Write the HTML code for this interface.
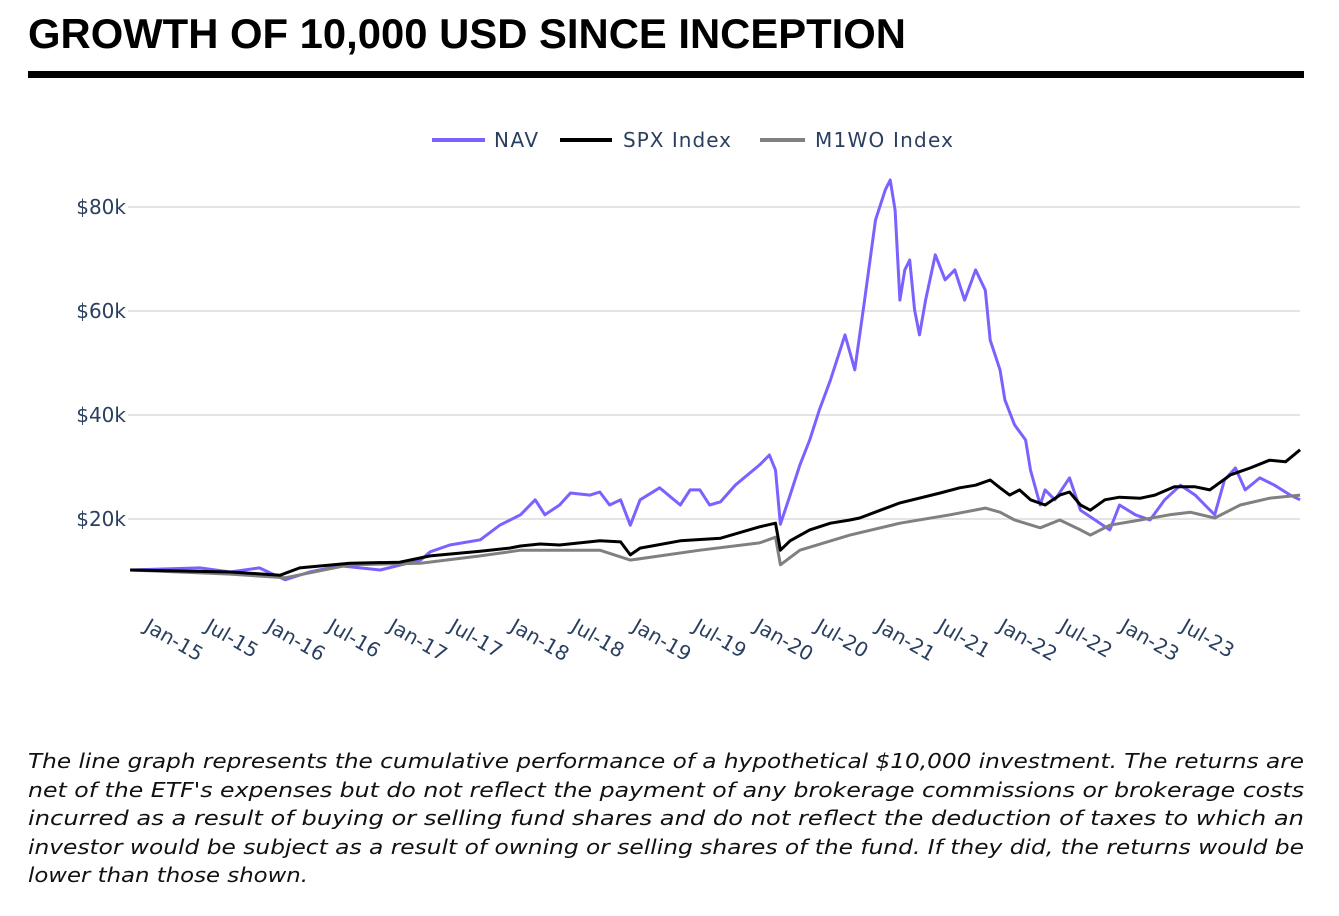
<!DOCTYPE html>
<html><head><meta charset="utf-8"><style>
body{margin:0;background:#fff;width:1339px;height:911px;overflow:hidden;font-family:"Liberation Sans",sans-serif}
</style></head><body>
<svg width="1339" height="911" viewBox="0 0 1339 911">
<text x="28" y="48" font-size="42" font-weight="bold" fill="#000" textLength="878" lengthAdjust="spacingAndGlyphs">GROWTH OF 10,000 USD SINCE INCEPTION</text>
<rect x="28" y="71" width="1276" height="7" fill="#000"/>
<g id="grid"></g>
<g id="yt"></g>
<g id="xt"></g>
<g id="lines"></g>
<g font-size="20" fill="#2a3f5f" font-family="DejaVu Sans, sans-serif">
<g><line x1="432" y1="140" x2="485" y2="140" stroke="#7b61ff" stroke-width="4"/><text x="494" y="147" textLength="44">NAV</text></g>
<g><line x1="560" y1="140" x2="612" y2="140" stroke="#000" stroke-width="4"/><text x="623" y="147" textLength="108">SPX Index</text></g>
<g><line x1="760" y1="140" x2="805" y2="140" stroke="#808080" stroke-width="4"/><text x="815" y="147" textLength="138">M1WO Index</text></g>
</g>
<g font-size="20" font-style="italic" fill="#111" font-family="DejaVu Sans, sans-serif">
<text x="28" y="768" textLength="1276" lengthAdjust="spacingAndGlyphs">The line graph represents the cumulative performance of a hypothetical $10,000 investment. The returns are</text>
<text x="28" y="797" textLength="1276" lengthAdjust="spacingAndGlyphs">net of the ETF's expenses but do not reflect the payment of any brokerage commissions or brokerage costs</text>
<text x="28" y="825" textLength="1276" lengthAdjust="spacingAndGlyphs">incurred as a result of buying or selling fund shares and do not reflect the deduction of taxes to which an</text>
<text x="28" y="854" textLength="1276" lengthAdjust="spacingAndGlyphs">investor would be subject as a result of owning or selling shares of the fund. If they did, the returns would be</text>
<text x="28" y="882" textLength="280" lengthAdjust="spacingAndGlyphs">lower than those shown.</text>
</g>
</svg>
<script>
const yTicks=[20,40,60,80];
const xTickLabels=["Jan-15","Jul-15","Jan-16","Jul-16","Jan-17","Jul-17","Jan-18","Jul-18","Jan-19","Jul-19","Jan-20","Jul-20","Jan-21","Jul-21","Jan-22","Jul-22","Jan-23","Jul-23"];
const xTickYears=[2015,2015.5,2016,2016.5,2017,2017.5,2018,2018.5,2019,2019.5,2020,2020.5,2021,2021.5,2022,2022.5,2023,2023.5];
const navDates=[-0.04,0.53,0.78,1.02,1.23,1.43,1.68,2.01,2.34,2.42,2.58,2.83,2.99,3.16,3.28,3.36,3.48,3.57,3.73,3.81,3.89,3.98,4.06,4.14,4.30,4.47,4.55,4.63,4.71,4.80,4.92,5.12,5.20,5.25,5.29,5.37,5.45,5.53,5.61,5.70,5.82,5.90,5.98,6.07,6.15,6.19,6.23,6.27,6.31,6.35,6.39,6.43,6.48,6.56,6.64,6.72,6.80,6.89,6.97,7.01,7.09,7.13,7.21,7.30,7.34,7.42,7.46,7.54,7.66,7.75,7.87,7.99,8.07,8.20,8.32,8.44,8.57,8.69,8.77,8.85,8.93,9.02,9.10,9.22,9.34,9.47,9.55];
const navValues=[10.2,10.6,9.8,10.6,8.3,9.8,11.0,10.2,12.1,13.7,15.0,16.0,18.8,20.8,23.7,20.8,22.7,25.0,24.6,25.2,22.7,23.7,18.8,23.7,26.0,22.7,25.6,25.6,22.7,23.3,26.5,30.4,32.3,29.4,19.0,24.6,30.4,35.2,41.0,46.7,55.4,48.7,62.1,77.5,83.3,85.2,79.4,62.1,67.9,69.8,60.2,55.4,62.1,70.8,66.0,67.9,62.1,67.9,64.0,54.4,48.7,42.9,38.1,35.2,29.4,22.7,25.6,23.7,27.9,21.7,19.8,17.9,22.7,20.8,19.8,23.7,26.5,24.6,22.7,20.8,27.5,29.8,25.6,27.9,26.5,24.6,23.7];
const spxDates=[-0.04,0.78,1.19,1.35,1.76,2.17,2.42,2.83,3.07,3.16,3.32,3.48,3.81,3.98,4.06,4.14,4.47,4.80,5.12,5.25,5.29,5.37,5.53,5.70,5.86,5.94,6.11,6.27,6.60,6.76,6.89,7.01,7.09,7.17,7.25,7.34,7.46,7.58,7.66,7.75,7.83,7.95,8.07,8.24,8.36,8.52,8.69,8.81,8.98,9.14,9.30,9.43,9.55];
const spxValues=[10.2,9.8,9.2,10.6,11.5,11.7,12.9,13.8,14.4,14.8,15.2,15.0,15.8,15.6,13.1,14.4,15.8,16.3,18.5,19.2,14.0,15.8,17.9,19.2,19.8,20.2,21.7,23.1,25.0,26.0,26.5,27.5,26.0,24.6,25.6,23.7,22.7,24.6,25.2,22.7,21.7,23.7,24.2,24.0,24.6,26.2,26.2,25.6,28.5,29.8,31.3,31.0,33.3];
const mDates=[-0.04,0.78,1.23,1.76,2.34,2.83,3.16,3.81,4.06,4.63,5.12,5.25,5.29,5.45,5.86,6.27,6.68,6.97,7.09,7.21,7.42,7.58,7.75,7.83,7.99,8.24,8.48,8.65,8.85,9.06,9.30,9.55];
const mValues=[10.2,9.4,8.7,11.2,11.5,12.9,14.0,14.0,12.1,14.0,15.4,16.5,11.2,14.0,16.9,19.2,20.8,22.1,21.3,19.8,18.3,19.8,17.9,16.9,18.8,19.8,20.8,21.3,20.2,22.7,24.0,24.6];
const NS='http://www.w3.org/2000/svg';
const X=y=>135+(y-2015)*122, Xd=d=>135+d*122, Y=v=>623-v*5.2;
const grid=document.getElementById('grid'),yt=document.getElementById('yt'),xt=document.getElementById('xt'),lines=document.getElementById('lines');
yTicks.forEach(v=>{
 const l=document.createElementNS(NS,'line');
 
 
 l.setAttribute('x1',128);l.setAttribute('x2',1300);l.setAttribute('y1',Y(v));l.setAttribute('y2',Y(v));l.setAttribute('stroke','#dcdcdc');l.setAttribute('stroke-width','1.5');grid.appendChild(l);
 const t=document.createElementNS(NS,'text');
 
 
 t.setAttribute('x',126);t.setAttribute('y',Y(v)+7);t.setAttribute('text-anchor','end');t.setAttribute('font-size','20');t.setAttribute('font-family','DejaVu Sans, sans-serif');t.setAttribute('fill','#2a3f5f');t.textContent='$'+v+'k';yt.appendChild(t);
});
xTickLabels.forEach((s,i)=>{
 const t=document.createElementNS(NS,'text');
 
 
 const x=X(xTickYears[i])+8,y=630;
 t.setAttribute('x',x);t.setAttribute('y',y);t.setAttribute('font-size','20');t.setAttribute('font-family','DejaVu Sans, sans-serif');t.setAttribute('fill','#2a3f5f');t.setAttribute('transform','rotate(30 '+x+' '+y+')');t.textContent=s;xt.appendChild(t);
});
function draw(d,v,c,name){
 const p=document.createElementNS(NS,'path');
 
 
 p.setAttribute('d',d.map((a,i)=>(i?'L':'M')+Xd(a).toFixed(1)+','+Y(v[i]).toFixed(1)).join(''));
 p.setAttribute('fill','none');p.setAttribute('stroke',c);p.setAttribute('stroke-width','3');p.setAttribute('stroke-linejoin','round');lines.appendChild(p);
}
draw(navDates,navValues,'#7b61ff','nav-line');
draw(mDates,mValues,'#808080','m1wo-line');
draw(spxDates,spxValues,'#000000','spx-line');
</script>
</body></html>
